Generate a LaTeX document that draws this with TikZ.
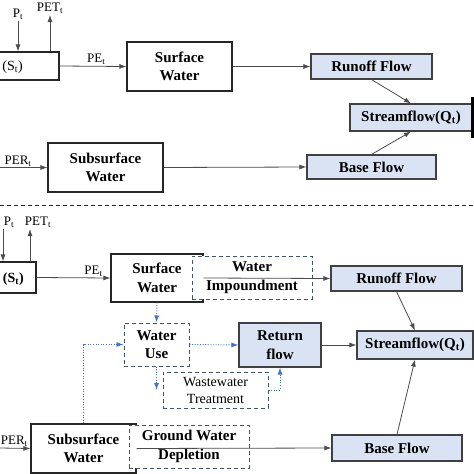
\documentclass[tikz,border=0pt]{standalone}
\usepackage{fontspec}
\setmainfont{Liberation Serif}
\usetikzlibrary{positioning,arrows.meta,calc}
\definecolor{flowblue}{HTML}{DAE3F3}
\definecolor{dashgray}{HTML}{44546A}
\definecolor{dotblue}{HTML}{4472C4}
\tikzset{
  wbox/.style={draw=black!85, line width=1.1pt, fill=white, align=center,
     inner sep=0pt, font=\fontsize{15}{18.5}\selectfont\bfseries},
  fbox/.style={wbox, draw=black!75, fill=flowblue},
  dbox/.style={wbox, draw=dashgray, dash pattern=on 4pt off 3pt, line width=1pt},
  wire/.style={draw=black!70, line width=0.8pt, -{Latex[length=7pt,width=5pt]}},
  dwire/.style={draw=dotblue, line width=0.9pt, dash pattern=on 1pt off 1.6pt,
     -{Latex[length=7pt,width=5pt]}},
  lbl/.style={font=\fontsize{13}{15}\selectfont, inner sep=1pt},
  sepline/.style={draw=black!85, line width=0.9pt, dash pattern=on 4pt off 3pt},
  qbar/.style={draw=black, line width=4pt}
}
\begin{document}
\begin{tikzpicture}[x=1pt, y=-1pt]
  \useasboundingbox (0,0) rectangle (474,474);
  \clip (0,0) rectangle (474,474);

  % Top: natural condition
  \node[wbox, minimum width=120pt, minimum height=28pt] (soil1) at (-1,66) {};
  \node[lbl, anchor=east, font=\fontsize{14}{16}\selectfont] (st1) at (24,67) {(S\textsubscript{t})};
  \node[wbox, minimum width=105pt, minimum height=49pt] (sw1) at (179.5,66.5) {Surface\\Water};
  \node[fbox, minimum width=121pt, minimum height=25pt] (ro1) at (371.5,66.5) {Runoff Flow};
  \node[fbox, minimum width=122pt, minimum height=27pt] (sf1) at (411,117.5) {Streamflow(Q\textsubscript{t})};
  \node[fbox, minimum width=129pt, minimum height=24pt] (bf1) at (371.5,167) {Base Flow};
  \node[wbox, minimum width=115pt, minimum height=49pt] (ss1) at (105.5,167.5) {Subsurface\\Water};

  \coordinate (p1) at (18,21);
  \coordinate (pet1) at (50,15);
  \coordinate (per1) at (0,167.5);
  \node[lbl, above] (p1lbl) at (p1) {P\textsubscript{t}};
  \node[lbl, above] (pet1lbl) at (pet1) {PET\textsubscript{t}};

  \draw[wire] (p1) -- (p1 |- soil1.north);
  \draw[wire] (pet1 |- soil1.north) -- (pet1);
  \draw[wire] (soil1.east) -- node[lbl, above, pos=0.55] {PE\textsubscript{t}} (sw1.west);
  \draw[wire] (sw1.east) -- (ro1.west);
  \draw[wire] (ro1.south) -- (sf1.north);
  \draw[wire] (bf1.north) -- (sf1.south);
  \draw[wire] (per1) -- node[lbl, above, pos=0.38] {PER\textsubscript{t}} (ss1.west);
  \draw[wire] (ss1.east) -- (bf1.west);
  \draw[qbar] ([yshift=20.5pt]sf1.east) -- ([yshift=-20.5pt]sf1.east);

  \draw[sepline] (0,205) -- (474,205);

  % Bottom: with human activities
  \node[wbox, minimum width=116pt, minimum height=31pt] (soil2) at (-22,277.5) {};
  \node[lbl, anchor=east, font=\fontsize{14}{16}\selectfont\bfseries] (st2) at (25,279) {(S\textsubscript{t})};
  \node[wbox, minimum width=92pt, minimum height=48pt] (sw2) at (157,278) {Surface\\Water};
  \node[dbox, minimum width=120pt, minimum height=43pt] (imp) at (252,277.5) {Water\\Impoundment};
  \node[fbox, minimum width=131pt, minimum height=25pt] (ro2) at (396.5,278.5) {Runoff Flow};
  \node[fbox, minimum width=116pt, minimum height=28pt] (sf2) at (415,345) {Streamflow(Q\textsubscript{t})};
  \node[fbox, minimum width=82pt, minimum height=44pt] (rf) at (280,345) {Return\\flow};
  \node[dbox, minimum width=65pt, minimum height=43pt] (use) at (156.5,344.5) {Water\\Use};
  \node[dbox, minimum width=105pt, minimum height=36pt,
        font=\fontsize{14}{17}\selectfont] (wwt) at (215.5,390) {Wastewater\\Treatment};
  \node[fbox, minimum width=130pt, minimum height=26pt] (bf2) at (397,448) {Base Flow};
  \node[wbox, minimum width=105pt, minimum height=49pt] (ss2) at (83.5,448.5) {Subsurface\\Water};
  \node[dbox, minimum width=120pt, minimum height=43pt] (gwd) at (189,446.5) {Ground Water\\Depletion};

  \coordinate (p2) at (3,229);
  \coordinate (pet2) at (30,229);
  \coordinate (per2) at (0,448);
  \node[lbl, above, xshift=6pt] (p2lbl) at (p2) {P\textsubscript{t}};
  \node[lbl, above, xshift=8pt] (pet2lbl) at (pet2) {PET\textsubscript{t}};

  \draw[wire] (p2) -- (p2 |- soil2.north);
  \draw[wire] (pet2 |- soil2.north) -- (pet2);
  \draw[wire] (soil2.east) -- node[lbl, above, pos=0.77] {PE\textsubscript{t}} (sw2.west);
  \draw[wire] (sw2.east) -- (ro2.west);
  \draw[wire] (ro2.south) -- (sf2.north);
  \draw[wire] (rf.east) -- (sf2.west);
  \draw[wire] (bf2.north) -- (sf2.south);
  \draw[wire] (per2) -- node[lbl, above, pos=0.47] {PER\textsubscript{t}} (ss2.west);
  \draw[wire] (ss2.east) -- (bf2.west);

  % Water use loop
  \draw[dwire] (sw2.south) -- (use.north);
  \draw[dwire] (use.east) -- (rf.west);
  \draw[dwire] (ss2.north) |- (use.west);
  \draw[dwire] (use.south) -- (use.south |- wwt.west);
  \draw[dwire] (wwt.east) -| (rf.south);
\end{tikzpicture}
\end{document}
